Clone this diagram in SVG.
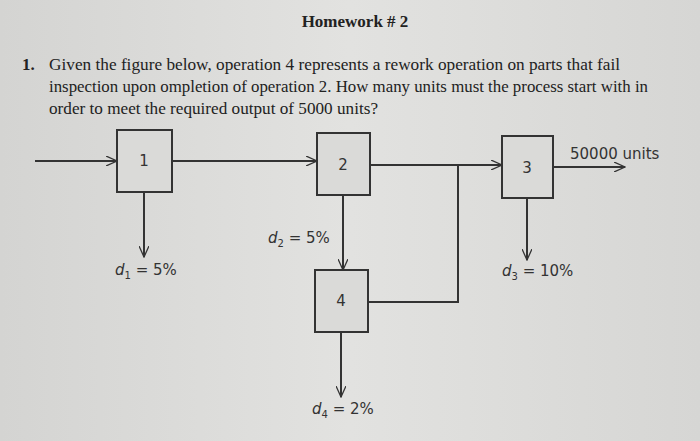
<svg xmlns="http://www.w3.org/2000/svg" width="700" height="441" viewBox="0 0 700 441">
<defs>
<linearGradient id="bg" x1="0" y1="0" x2="1" y2="0"><stop offset="0" stop-color="#d4d4d2"/><stop offset="0.5" stop-color="#e2e2e0"/><stop offset="1" stop-color="#d6d6d4"/></linearGradient>
<marker id="a" markerWidth="12" markerHeight="10" refX="11" refY="5" orient="auto" markerUnits="userSpaceOnUse"><path d="M0,0 L11,5 L0,10" fill="none" stroke="#333" stroke-width="1.3"/></marker>
<style>
.box{fill:#dadad8;stroke:#333;stroke-width:2}
.ln{fill:none;stroke:#333;stroke-width:2}
.t{font-family:"Liberation Serif",serif;fill:#222}
.s{font-family:"DejaVu Sans",sans-serif;fill:#333;font-size:15px}
</style>
</defs>
<rect width="700" height="441" fill="url(#bg)"/>
<text class="t" x="355" y="27" font-size="17" font-weight="bold" text-anchor="middle">Homework # 2</text>
<text class="t" x="22" y="70" font-size="17" font-weight="bold">1.</text>
<text class="t" x="49" y="70" font-size="17" textLength="571" lengthAdjust="spacingAndGlyphs">Given the figure below, operation 4 represents a rework operation on parts that fail</text>
<text class="t" x="49" y="92" font-size="17" textLength="599" lengthAdjust="spacingAndGlyphs">inspection upon ompletion of operation 2. How many units must the process start with in</text>
<text class="t" x="49" y="114" font-size="17" textLength="329" lengthAdjust="spacingAndGlyphs">order to meet the required output of 5000 units?</text>
<g id="connectors">
<path class="ln" d="M35,161 H117" marker-end="url(#a)"/>
<path class="ln" d="M172,161 H317" marker-end="url(#a)"/>
<path class="ln" d="M370,165 H502" marker-end="url(#a)"/>
<path class="ln" d="M368,302 H458 V165"/>
<path class="ln" d="M553,167 H625" marker-end="url(#a)"/>
<path class="ln" d="M144,192 V257" marker-end="url(#a)"/>
<path class="ln" d="M343,195 V270" marker-end="url(#a)"/>
<path class="ln" d="M527,198 V260" marker-end="url(#a)"/>
<path class="ln" d="M341,332 V397" marker-end="url(#a)"/>
</g>
<g id="n1"><rect class="box" x="117" y="130" width="55" height="62"/><text class="s" x="144" y="166" text-anchor="middle">1</text></g>
<g id="n2"><rect class="box" x="317" y="133" width="53" height="62"/><text class="s" x="343" y="170" text-anchor="middle">2</text></g>
<g id="n3"><rect class="box" x="502" y="136" width="51" height="62"/><text class="s" x="527" y="173" text-anchor="middle">3</text></g>
<g id="n4"><rect class="box" x="315" y="270" width="53" height="62"/><text class="s" x="341" y="306" text-anchor="middle">4</text></g>
<text class="s" x="570" y="159" font-size="14">50000 units</text>
<text class="s" x="115" y="275"><tspan font-style="italic">d</tspan><tspan font-size="10" dy="4">1</tspan><tspan dy="-4"> = 5%</tspan></text>
<text class="s" x="268" y="243"><tspan font-style="italic">d</tspan><tspan font-size="10" dy="4">2</tspan><tspan dy="-4"> = 5%</tspan></text>
<text class="s" x="502" y="276"><tspan font-style="italic">d</tspan><tspan font-size="10" dy="4">3</tspan><tspan dy="-4"> = 10%</tspan></text>
<text class="s" x="312" y="414"><tspan font-style="italic">d</tspan><tspan font-size="10" dy="4">4</tspan><tspan dy="-4"> = 2%</tspan></text>
</svg>
